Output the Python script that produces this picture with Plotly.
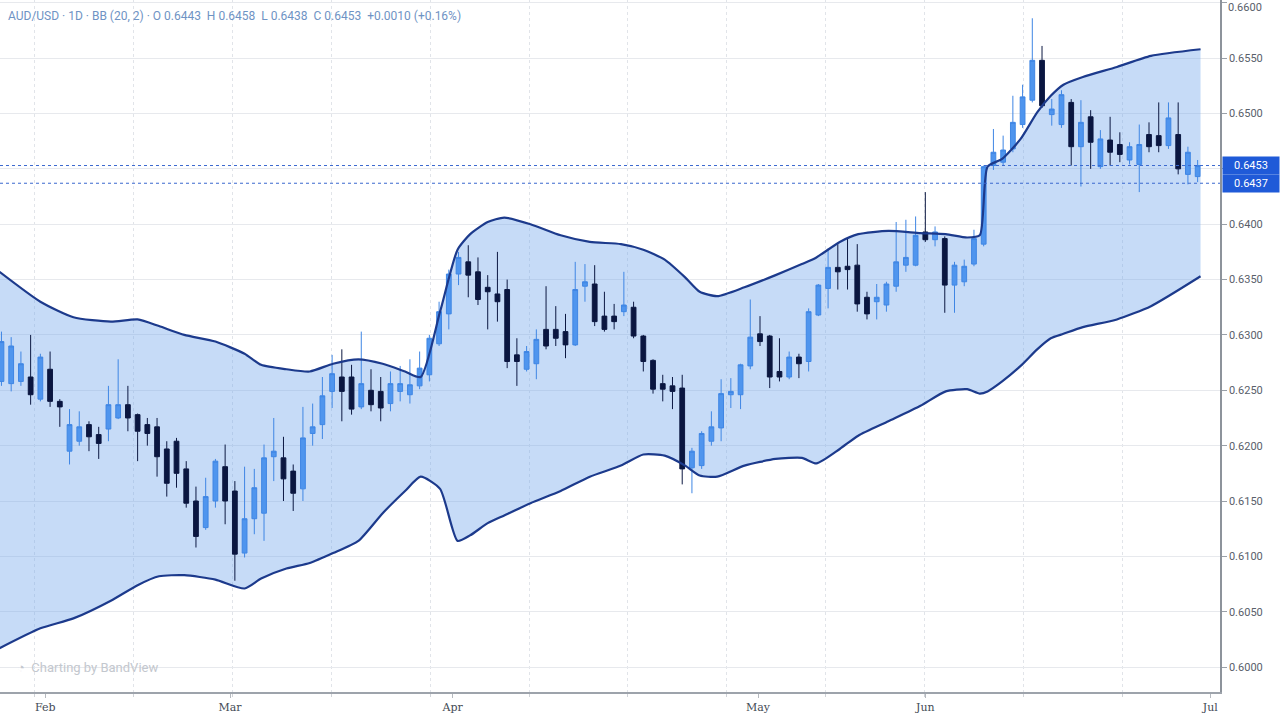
import plotly.graph_objects as go

# ---------------- data ----------------
opens = [0.6258, 0.6256, 0.6258, 0.6262, 0.6242, 0.6269, 0.6240, 0.6195, 0.6204, 0.6219,
         0.6210, 0.6215, 0.6225, 0.6237, 0.6228, 0.6219, 0.6217, 0.6197, 0.6204, 0.6179,
         0.6150, 0.6126, 0.6150, 0.6181, 0.6159, 0.6103, 0.6134, 0.6139, 0.6190, 0.6189,
         0.6177, 0.6161, 0.6211, 0.6219, 0.6249, 0.6262, 0.6262, 0.6235, 0.6250, 0.6249,
         0.6238, 0.6249, 0.6246, 0.6254, 0.6264, 0.6292, 0.6319, 0.6355, 0.6366, 0.6357,
         0.6343, 0.6337, 0.6341, 0.6282, 0.6269, 0.6274, 0.6305, 0.6305, 0.6303, 0.6291,
         0.6344, 0.6346, 0.6317, 0.6317, 0.6321, 0.6325, 0.6299, 0.6277, 0.6256, 0.6254,
         0.6252, 0.6180, 0.6182, 0.6204, 0.6216, 0.6246, 0.6246, 0.6272, 0.6301, 0.6299,
         0.6267, 0.6262, 0.6280, 0.6276, 0.6318, 0.6342, 0.6361, 0.6362, 0.6363, 0.6334,
         0.6330, 0.6327, 0.6344, 0.6363, 0.6363, 0.6393, 0.6386, 0.6387, 0.6345, 0.6348,
         0.6364, 0.6382, 0.6453, 0.6456, 0.6468, 0.6490, 0.6512, 0.6548, 0.6499, 0.6490,
         0.6510, 0.6470, 0.6497, 0.6452, 0.6476, 0.6472, 0.6458, 0.6454, 0.6481, 0.6480,
         0.6471, 0.6481, 0.6445, 0.6443]
highs = [0.6303, 0.6298, 0.6285, 0.6300, 0.6283, 0.6285, 0.6242, 0.6233, 0.6231, 0.6222,
         0.6217, 0.6254, 0.6278, 0.6254, 0.6229, 0.6225, 0.6225, 0.6204, 0.6207, 0.6186,
         0.6163, 0.6171, 0.6188, 0.6201, 0.6168, 0.6181, 0.6179, 0.6201, 0.6225, 0.6208,
         0.6183, 0.6235, 0.6238, 0.6262, 0.6282, 0.6287, 0.6273, 0.6303, 0.6269, 0.6262,
         0.6267, 0.6272, 0.6278, 0.6285, 0.6300, 0.6330, 0.6359, 0.6375, 0.6381, 0.6370,
         0.6354, 0.6375, 0.6350, 0.6297, 0.6290, 0.6305, 0.6344, 0.6326, 0.6319, 0.6366,
         0.6364, 0.6363, 0.6339, 0.6328, 0.6357, 0.6330, 0.6300, 0.6278, 0.6264, 0.6262,
         0.6264, 0.6198, 0.6213, 0.6231, 0.6260, 0.6261, 0.6274, 0.6332, 0.6317, 0.6300,
         0.6297, 0.6285, 0.6283, 0.6324, 0.6346, 0.6378, 0.6382, 0.6387, 0.6382, 0.6339,
         0.6346, 0.6348, 0.6402, 0.6404, 0.6407, 0.6429, 0.6398, 0.6389, 0.6366, 0.6368,
         0.6395, 0.6453, 0.6486, 0.6480, 0.6516, 0.6526, 0.6586, 0.6561, 0.6513, 0.6521,
         0.6513, 0.6512, 0.6503, 0.6485, 0.6497, 0.6483, 0.6474, 0.6490, 0.6492, 0.6510,
         0.6510, 0.6510, 0.6470, 0.6458]
lows = [0.6254, 0.6249, 0.6254, 0.6237, 0.6240, 0.6235, 0.6217, 0.6183, 0.6200, 0.6195,
        0.6188, 0.6204, 0.6224, 0.6213, 0.6186, 0.6200, 0.6172, 0.6154, 0.6162, 0.6144,
        0.6108, 0.6124, 0.6144, 0.6129, 0.6078, 0.6099, 0.6120, 0.6114, 0.6168, 0.6150,
        0.6141, 0.6150, 0.6200, 0.6206, 0.6234, 0.6222, 0.6228, 0.6233, 0.6231, 0.6222,
        0.6231, 0.6240, 0.6238, 0.6251, 0.6258, 0.6290, 0.6305, 0.6345, 0.6334, 0.6327,
        0.6305, 0.6312, 0.6270, 0.6254, 0.6267, 0.6260, 0.6287, 0.6290, 0.6279, 0.6290,
        0.6330, 0.6308, 0.6303, 0.6305, 0.6317, 0.6297, 0.6267, 0.6247, 0.6240, 0.6233,
        0.6165, 0.6157, 0.6179, 0.6200, 0.6204, 0.6234, 0.6233, 0.6269, 0.6290, 0.6252,
        0.6258, 0.6260, 0.6261, 0.6267, 0.6317, 0.6324, 0.6341, 0.6341, 0.6321, 0.6314,
        0.6314, 0.6321, 0.6339, 0.6357, 0.6362, 0.6384, 0.6380, 0.6320, 0.6320, 0.6344,
        0.6362, 0.6380, 0.6449, 0.6453, 0.6465, 0.6487, 0.6510, 0.6505, 0.6489, 0.6487,
        0.6453, 0.6434, 0.6450, 0.6450, 0.6453, 0.6456, 0.6454, 0.6429, 0.6465, 0.6465,
        0.6468, 0.6445, 0.6436, 0.6438]
closes = [0.6294, 0.6290, 0.6274, 0.6246, 0.6280, 0.6240, 0.6235, 0.6219, 0.6217, 0.6208,
          0.6202, 0.6237, 0.6237, 0.6225, 0.6213, 0.6211, 0.6190, 0.6166, 0.6175, 0.6148,
          0.6118, 0.6154, 0.6186, 0.6150, 0.6102, 0.6134, 0.6162, 0.6189, 0.6195, 0.6170,
          0.6157, 0.6207, 0.6217, 0.6245, 0.6265, 0.6249, 0.6233, 0.6256, 0.6237, 0.6234,
          0.6256, 0.6256, 0.6255, 0.6270, 0.6297, 0.6321, 0.6355, 0.6370, 0.6354, 0.6332,
          0.6339, 0.6330, 0.6276, 0.6276, 0.6285, 0.6296, 0.6290, 0.6297, 0.6291, 0.6341,
          0.6348, 0.6312, 0.6305, 0.6312, 0.6327, 0.6299, 0.6276, 0.6251, 0.6251, 0.6249,
          0.6179, 0.6195, 0.6211, 0.6217, 0.6247, 0.6249, 0.6273, 0.6298, 0.6294, 0.6262,
          0.6262, 0.6280, 0.6274, 0.6321, 0.6345, 0.6361, 0.6357, 0.6359, 0.6328, 0.6319,
          0.6334, 0.6346, 0.6366, 0.6370, 0.6390, 0.6386, 0.6393, 0.6345, 0.6363, 0.6362,
          0.6387, 0.6452, 0.6465, 0.6467, 0.6492, 0.6515, 0.6548, 0.6507, 0.6504, 0.6517,
          0.6470, 0.6492, 0.6474, 0.6477, 0.6465, 0.6463, 0.6470, 0.6472, 0.6470, 0.6471,
          0.6496, 0.6450, 0.6465, 0.6453]
bars = list(range(len(opens)))

band_x = [-0.2, 4.0, 7.4, 11.25, 14.0, 16.2, 18.8, 22.0, 25.0, 26.7, 29.3, 31.7, 34.1, 36.7,
          39.2, 41.5, 43.1, 45.1, 46.9, 48.2, 50.0, 51.7, 54.4, 57.5, 60.5, 63.7, 66.0, 68.2,
          70.3, 71.8, 73.6, 76.4, 79.6, 82.3, 83.8, 86.2, 88.1, 91.2, 94.5, 97.1, 99.3, 100.6,
          101.4, 102.9, 104.8, 106.5, 107.9, 109.2, 111.2, 114.7, 118.2, 123.3]
band_upper = [0.6357, 0.6330, 0.6316, 0.6312, 0.6314, 0.6308, 0.6300, 0.6294, 0.6283, 0.6273,
              0.6269, 0.6267, 0.6274, 0.6278, 0.6274, 0.6267, 0.6262, 0.6321, 0.6377, 0.6391,
              0.6402, 0.6406, 0.6400, 0.6390, 0.6384, 0.6382, 0.6377, 0.6368, 0.6352, 0.6339,
              0.6335, 0.6343, 0.6354, 0.6364, 0.6370, 0.6384, 0.6391, 0.6394, 0.6392, 0.6391,
              0.6388, 0.6390, 0.6452, 0.6459, 0.6477, 0.6501, 0.6516, 0.6526, 0.6533, 0.6542,
              0.6552, 0.6558]
band_lower = [0.6017, 0.6035, 0.6044, 0.6060, 0.6074, 0.6082, 0.6083, 0.6079, 0.6071, 0.6080,
              0.6089, 0.6094, 0.6103, 0.6114, 0.6139, 0.6159, 0.6172, 0.6161, 0.6114, 0.6119,
              0.6130, 0.6137, 0.6148, 0.6159, 0.6172, 0.6182, 0.6192, 0.6191, 0.6182, 0.6173,
              0.6172, 0.6182, 0.6188, 0.6189, 0.6184, 0.6197, 0.6209, 0.6222, 0.6236, 0.6249,
              0.6251, 0.6247, 0.6249, 0.6258, 0.6272, 0.6287, 0.6297, 0.6301, 0.6307, 0.6314,
              0.6326, 0.6353]

y_ticks = [0.6000, 0.6050, 0.6100, 0.6150, 0.6200, 0.6250, 0.6300, 0.6350, 0.6400,
           0.6450, 0.6500, 0.6550, 0.6600]
y_tick_labels = ["0.6000", "0.6050", "0.6100", "0.6150", "0.6200", "0.6250", "0.6300",
                 "0.6350", "0.6400", "", "0.6500", "0.6550", ""]
top_tick_value = 0.6600
x_tick_pos = [4.5, 23.5, 46.4, 77.8, 95.0, 124.3]
x_tick_labels = ["Feb", "Mar", "Apr", "May", "Jun", "Jul"]
last_price = 0.6453
ref_price = 0.6437
title_text = "AUD/USD · 1D · BB (20, 2) · O 0.6443  H 0.6458  L 0.6438  C 0.6453  +0.0010 (+0.16%)"

x_range = [-0.15, 125.3]
y_range = [0.59775, 0.66025]

tick_font = dict(size=11, color="#59606a", family="Roboto")

# ---------------- figure ----------------
fig = go.Figure()

# band fill on the base subplot (drawn underneath the candles)
fig.add_trace(go.Scatter(x=band_x, y=band_lower, mode="lines",
                         line=dict(width=0, shape="spline", smoothing=0.6),
                         hoverinfo="skip", showlegend=False))
fig.add_trace(go.Scatter(x=band_x, y=band_upper, mode="lines",
                         line=dict(width=0, shape="spline", smoothing=0.6),
                         fill="tonexty", fillcolor="rgba(120,170,235,0.42)",
                         hoverinfo="skip", showlegend=False))

# candles and band lines on an overlaid subplot (drawn on top of the fill)
fig.add_trace(go.Candlestick(
    x=bars, open=opens, high=highs, low=lows, close=closes,
    increasing=dict(line=dict(color="#3f86e4", width=1), fillcolor="#4f95ee"),
    decreasing=dict(line=dict(color="#0c1842", width=1), fillcolor="#0a1640"),
    whiskerwidth=0, showlegend=False, xaxis="x2", yaxis="y2"))

band_line = dict(color="#1c3a8c", width=2.2, shape="spline", smoothing=0.6)
fig.add_trace(go.Scatter(x=band_x, y=band_lower, mode="lines", line=band_line,
                         hoverinfo="skip", showlegend=False, xaxis="x2", yaxis="y2"))
fig.add_trace(go.Scatter(x=band_x, y=band_upper, mode="lines", line=band_line,
                         hoverinfo="skip", showlegend=False, xaxis="x2", yaxis="y2"))

for p in (last_price, ref_price):
    fig.add_shape(type="line", xref="paper", x0=0, x1=1, yref="y", y0=p, y1=p,
                  line=dict(color="#3a68cf", width=1, dash="dot"))

for p in (last_price, ref_price):
    fig.add_annotation(xref="paper", x=1.0, xanchor="left", xshift=2,
                       yref="y", y=p, text=f"{p:.4f}", showarrow=False,
                       bgcolor="#1f5ad8", font=dict(color="white", size=11, family="Roboto"),
                       width=56, height=17, borderpad=0)

# top price label (kept inside the page)
fig.add_annotation(xref="paper", x=1.0, xanchor="left", xshift=6,
                   yref="y", y=top_tick_value, yanchor="top", yshift=4,
                   text=f"{top_tick_value:.4f}", showarrow=False, font=tick_font)

fig.add_annotation(xref="paper", x=0.005, xanchor="left", yref="paper", y=0.977,
                   yanchor="middle", text=title_text, showarrow=False,
                   font=dict(color="#6f93c4", size=12, family="Roboto"))
fig.add_annotation(xref="paper", x=0.012, xanchor="left", yref="paper", y=0.036,
                   yanchor="middle", text="◔  Charting by BandView", showarrow=False,
                   font=dict(color="#c3c7ce", size=13, family="Roboto"))

fig.update_layout(
    width=1280, height=720,
    margin=dict(l=0, r=60, t=0, b=28, autoexpand=False),
    paper_bgcolor="white", plot_bgcolor="white",
    showlegend=False,
    xaxis=dict(range=x_range, rangeslider=dict(visible=False), automargin=False,
               tickmode="array", tickvals=x_tick_pos, ticktext=x_tick_labels,
               showgrid=False, zeroline=False,
               showline=True, linecolor="#9da3ab", linewidth=1.5,
               ticks="outside", ticklen=4, tickcolor="#b5b9bf",
               tickfont=dict(size=11, color="#444b55", family="DejaVu Serif"),
               minor=dict(tickmode="linear", tick0=3.4, dtick=10.17, showgrid=True,
                          gridcolor="#e1e4e9", griddash="dot", gridwidth=1,
                          ticks="outside", ticklen=3, tickcolor="#d0d3d8")),
    yaxis=dict(side="right", range=y_range, automargin=False,
               tickmode="array", tickvals=y_ticks, ticktext=y_tick_labels,
               showgrid=True, gridcolor="#e7e9ed", gridwidth=1, zeroline=False,
               showline=True, linecolor="#8d939b", linewidth=1.5,
               ticks="outside", ticklen=5, tickcolor="#9aa0a8",
               tickfont=tick_font),
    xaxis2=dict(overlaying="x", range=x_range, visible=False, automargin=False,
                rangeslider=dict(visible=False)),
    yaxis2=dict(overlaying="y", range=y_range, visible=False, side="right",
                automargin=False),
)

fig.write_html("out.html")
